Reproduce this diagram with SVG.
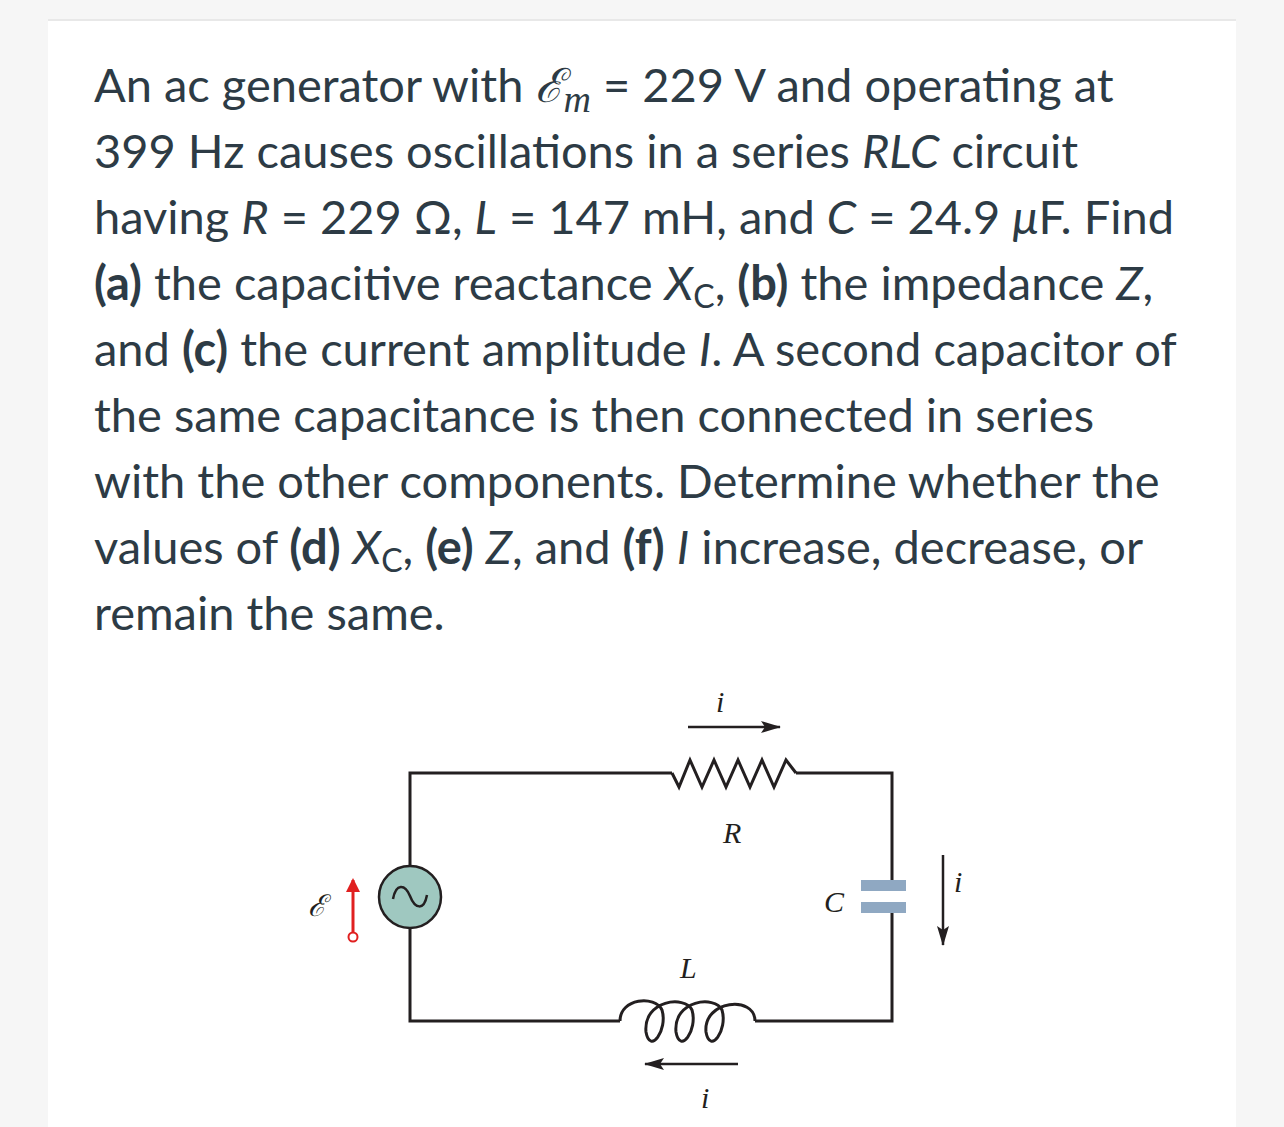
<svg xmlns="http://www.w3.org/2000/svg" width="1284" height="1127" viewBox="0 0 1284 1127">
<style>
.t{font-family:Lato,"Open Sans","Liberation Sans",sans-serif;font-size:47px;fill:#2d3b45}
.b{font-weight:bold}.i{font-style:italic}
.w{fill:none;stroke:#231f20;stroke-width:3}
.lab{font-family:"Liberation Serif","DejaVu Serif",serif;font-style:italic;font-size:30px;fill:#231f20}
</style>
<defs><marker id="ah" markerWidth="20" markerHeight="12" refX="19" refY="6" orient="auto" markerUnits="userSpaceOnUse"><path d="M0,0 L20,6 L0,12 L4,6 Z" fill="#231f20"/></marker>
<marker id="ahr" markerWidth="14" markerHeight="14" refX="12" refY="7" orient="auto" markerUnits="userSpaceOnUse"><path d="M0,0 L14,7 L0,14 Z" fill="#e02020"/></marker></defs>
<rect width="1284" height="1127" fill="#f6f6f6"/>
<rect x="48" y="20" width="1188" height="1120" fill="#fff"/>
<line x1="48" y1="20" x2="1236" y2="20" stroke="#e8e8e8" stroke-width="2"/>
<g id="text">
<text class="t" x="94" y="102">An ac generator with <tspan class="i" font-family="Liberation Serif,serif">ℰ</tspan><tspan class="i" font-family="Liberation Serif,serif" dy="10" font-size="38">m</tspan><tspan dy="-10"> = 229 V and operating at</tspan></text>
<text class="t" x="94" y="168">399 Hz causes oscillations in a series <tspan class="i">RLC</tspan> circuit</text>
<text class="t" x="94" y="234">having <tspan class="i">R</tspan> = 229 Ω, <tspan class="i">L</tspan> = 147 mH, and <tspan class="i">C</tspan> = 24.9 <tspan class="i">μ</tspan>F. Find</text>
<text class="t" x="94" y="300"><tspan class="b">(a)</tspan> the capacitive reactance <tspan class="i">X</tspan><tspan font-size="32" dy="8">C</tspan><tspan dy="-8">, </tspan><tspan class="b">(b)</tspan> the impedance <tspan class="i">Z</tspan>,</text>
<text class="t" x="94" y="366">and <tspan class="b">(c)</tspan> the current amplitude <tspan class="i">I</tspan>. A second capacitor of</text>
<text class="t" x="94" y="432">the same capacitance is then connected in series</text>
<text class="t" x="94" y="498">with the other components. Determine whether the</text>
<text class="t" x="94" y="564">values of <tspan class="b">(d)</tspan> <tspan class="i">X</tspan><tspan font-size="32" dy="8">C</tspan><tspan dy="-8">, </tspan><tspan class="b">(e)</tspan> <tspan class="i">Z</tspan>, and <tspan class="b">(f)</tspan> <tspan class="i">I</tspan> increase, decrease, or</text>
<text class="t" x="94" y="630">remain the same.</text>
</g>
<g id="connectors">
<path class="w" d="M410,867 V773 H672 M796,773 H892 V884 M892,912 V1021 H755 M620,1021 H410 V927"/>
</g>
<g id="resistor"><path class="w" d="M672,773 L679,787 L690,760 L702,787 L714,760 L726,787 L738,760 L750,787 L762,760 L774,787 L786,760 L796,773"/>
<text class="lab" x="723" y="843">R</text>
<line x1="688" y1="727" x2="780" y2="727" stroke="#231f20" stroke-width="2.5" marker-end="url(#ah)"/>
<text class="lab" x="716" y="712" font-size="26">i</text></g>
<g id="capacitor"><rect x="861" y="880" width="45" height="11" fill="#8fa8c2"/><rect x="861" y="902" width="45" height="11" fill="#8fa8c2"/>
<text class="lab" x="824" y="912">C</text>
<line x1="943" y1="855" x2="943" y2="945" stroke="#231f20" stroke-width="2.5" marker-end="url(#ah)"/>
<text class="lab" x="954" y="892" font-size="26">i</text></g>
<g id="inductor"><path class="w" d="M620,1021 C620,998 655,995 662,1010 C668,1030 650,1055 646,1032 C643,1000 685,995 692,1010 C698,1030 680,1055 676,1032 C673,1000 715,995 722,1010 C728,1030 710,1055 706,1032 C703,1000 755,995 755,1021"/>
<text class="lab" x="680" y="978">L</text>
<line x1="738" y1="1064" x2="645" y2="1064" stroke="#231f20" stroke-width="2.5" marker-end="url(#ah)"/>
<text class="lab" x="701" y="1108" font-size="26">i</text></g>
<g id="generator"><circle cx="410" cy="897" r="31" fill="#9fc8c0" stroke="#231f20" stroke-width="2.5"/>
<path d="M393,899 C396,883 405,884 410,896 C415,909 424,911 427,895" fill="none" stroke="#231f20" stroke-width="2.5"/>
<text class="lab" x="308" y="916" font-size="38">ℰ</text>
<line x1="353" y1="933" x2="353" y2="880" stroke="#e02020" stroke-width="3" marker-end="url(#ahr)"/>
<circle cx="353" cy="937" r="4.5" fill="#fff" stroke="#e02020" stroke-width="2"/></g>
</svg>
